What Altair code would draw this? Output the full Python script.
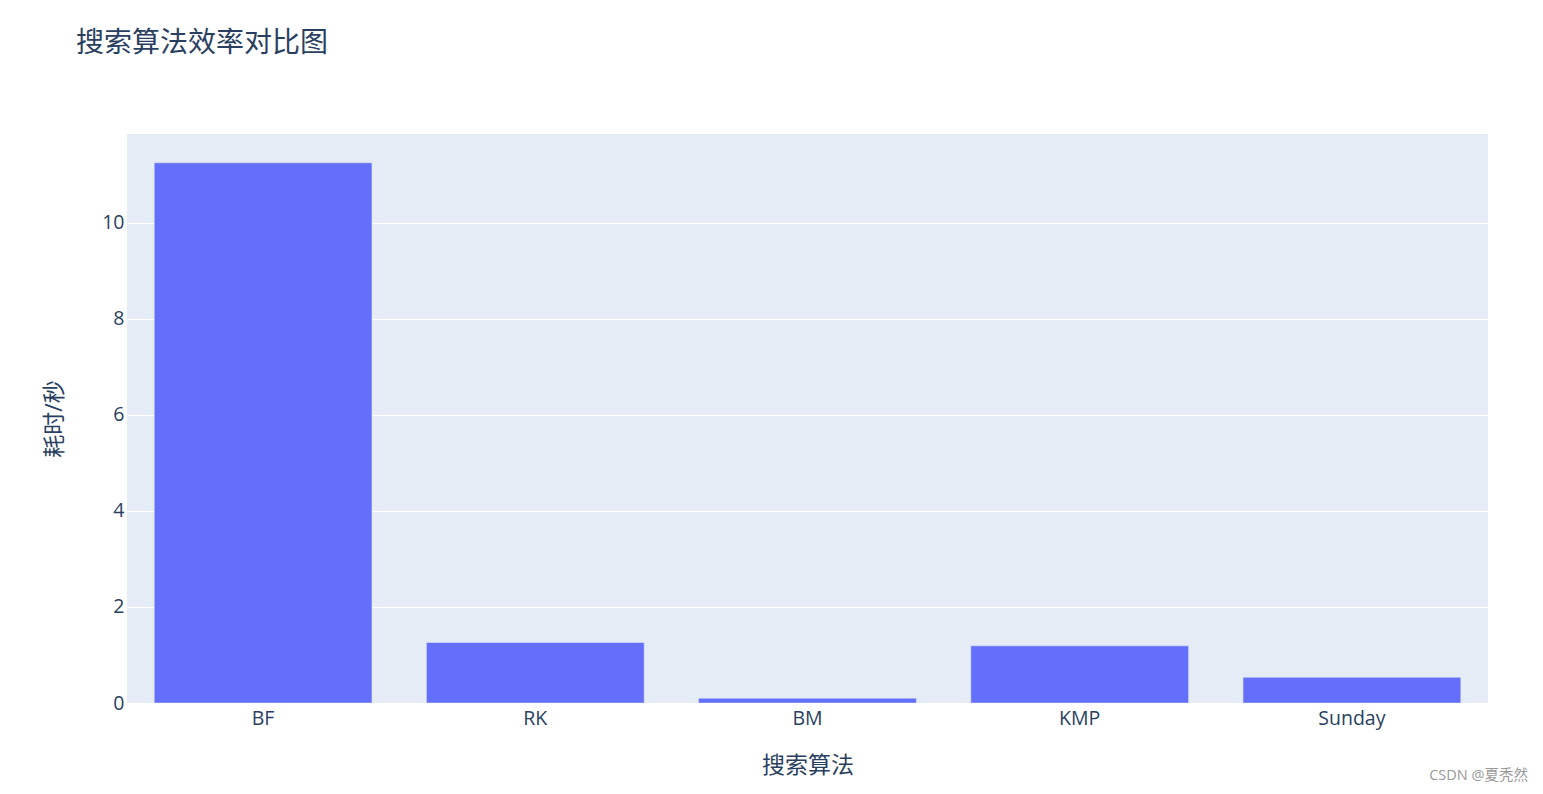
import altair as alt
import pandas as pd

algorithms = ["BF", "RK", "BM", "KMP", "Sunday"]
times = [11.25, 1.26, 0.10, 1.19, 0.535]

df = pd.DataFrame({"算法": algorithms, "耗时": times})

FONT = "Open Sans, Noto Sans CJK SC, sans-serif"
TXT = "#2a3f5f"

bars = alt.Chart(df).mark_bar(color="#636EFA", stroke="#E5ECF6", strokeWidth=0.5).encode(
    x=alt.X("算法:N", sort=algorithms, title="搜索算法",
            scale=alt.Scale(paddingInner=0.2, paddingOuter=0.1),
            axis=alt.Axis(labelAngle=0, ticks=False, domain=False, grid=False,
                          labelFontSize=19.5, labelColor=TXT, labelPadding=6,
                          titleFontSize=23, titleColor=TXT, titleFontWeight="normal",
                          titlePadding=27, labelFont=FONT, titleFont=FONT)),
    y=alt.Y("耗时:Q", title="耗时/秒",
            scale=alt.Scale(domain=[0, 11.85], nice=False, zero=True),
            axis=alt.Axis(values=[0, 2, 4, 6, 8, 10], ticks=False, domain=False,
                          gridColor="white", gridWidth=1.2,
                          labelFontSize=19.5, labelColor=TXT, labelPadding=3,
                          titleFontSize=23, titleColor=TXT, titleFontWeight="normal",
                          titlePadding=35, labelFont=FONT, titleFont=FONT)),
)

watermark = alt.Chart(pd.DataFrame({"t": ["CSDN @夏秃然"]})).mark_text(
    align="right", baseline="middle", fontSize=14.5, color="#999999", font=FONT
).encode(text="t:N", x=alt.value(1401), y=alt.value(642))

chart = alt.layer(bars, watermark).properties(
    width=1361, height=569,
    padding={"left": 119, "top": 126, "right": 40, "bottom": 80},
    autosize=alt.AutoSizeParams(type="none"),
    title=alt.TitleParams("搜索算法效率对比图", anchor="start", frame="group",
                          dx=-51, offset=76, fontSize=28, color=TXT,
                          fontWeight="normal", font=FONT),
    background="white",
).configure_view(fill="#E5ECF6", stroke=None)

chart.save("out.html", embed_options={"renderer": "svg", "actions": False})
